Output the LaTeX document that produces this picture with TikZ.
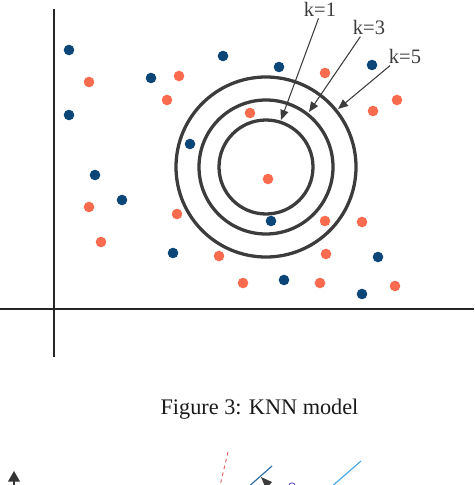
\documentclass[tikz,border=0pt]{standalone}
\usepackage{fontspec}
\setmainfont{Liberation Serif}
\usepackage{xcolor}
\usetikzlibrary{arrows.meta, positioning, calc}
\definecolor{dotblue}{HTML}{0B4677}
\definecolor{dotorange}{HTML}{F86B4F}
\definecolor{ringgray}{HTML}{3C3C3C}
\definecolor{nextblue}{HTML}{2A6FA8}
\definecolor{nextsky}{HTML}{4AA8E8}
\definecolor{nextred}{HTML}{E0605A}
\definecolor{nextpurple}{HTML}{6A5AC8}

\begin{document}
\begin{tikzpicture}[x=0.03cm, y=-0.03cm,
  bluedot/.style={fill=dotblue},
  orangedot/.style={fill=dotorange},
  ring/.style={draw=ringgray, line width=2.8pt},
  axis/.style={draw=black!85, line width=1.3pt},
  klabel/.style={font=\fontsize{17.5}{20}\selectfont, text=ringgray, inner sep=1pt, anchor=base},
  ptr/.style={draw=ringgray, line width=0.9pt, -{Triangle[length=8.5pt, width=7pt]}}]
\useasboundingbox (0,0) rectangle (474,485);
\draw[axis] (54,9) -- (54,357);
\draw[axis] (0,309) -- (474,309);
\foreach \p in {(69,50),(151,78),(223,56),(279,67),(372,65),(69,115),(190,144),(95,175),(122,200),(271,221),(173,253),(378,257),(284,280),(362,294)}
  \fill[bluedot] \p circle[radius=5.3];
\foreach \p in {(89,82),(179,76),(167,100),(325,73),(397,100),(373,111),(250,113),(268,179),(89,207),(177,214),(101,242),(325,221),(362,222),(219,256),(326,254),(243,283),(320,283),(395,286)}
  \fill[orangedot] \p circle[radius=5.3];
\coordinate (c) at (266,167);
\draw[ring] (c) circle[radius=47];
\draw[ring] (c) circle[radius=67];
\draw[ring] (c) circle[radius=90];
\node[klabel] (k1) at (320,17) {k=1};
\node[klabel] (k3) at (369,35) {k=3};
\node[klabel] (k5) at (405,64) {k=5};
\coordinate (t1) at (281,120);
\coordinate (t3) at (309,112);
\coordinate (t5) at (338,109);
\draw[ptr] (k1.-100) -- (t1);
\draw[ptr] (k3.-135) -- (t3);
\draw[ptr] (k5.-150) -- (t5);
\node[font=\fontsize{19}{22}\selectfont, text=black!90, anchor=base] (cap) at (259.5,414) {Figure 3: KNN model};
\begin{scope}
\clip (0,0) rectangle (474,485);
\draw[black!80, line width=1pt, -{Triangle[length=9pt, width=10pt]}] (14,495) -- (14,471);
\draw[nextred, line width=0.8pt, dashed] (228,452) -- (219,490);
\draw[nextblue, line width=1pt] (272,466) -- (246,489);
\fill[ringgray] (261,477) -- (272,482) -- (266,489) -- cycle;
\draw[nextpurple, line width=0.8pt] (292,486) circle[radius=3.2];
\draw[nextsky, line width=1pt] (361,461) -- (330,488);
\end{scope}
\end{tikzpicture}
\end{document}
